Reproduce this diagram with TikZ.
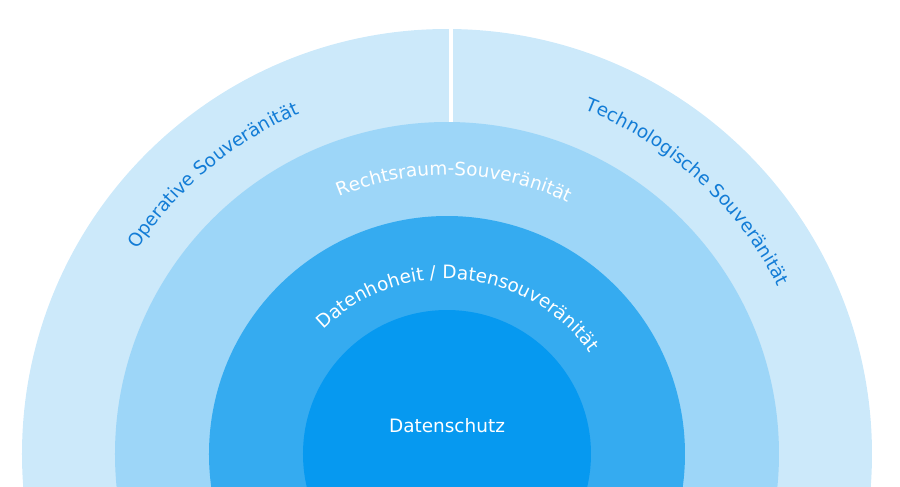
\documentclass[tikz,border=0pt]{standalone}
\usepackage{fontspec}
\setmainfont{DejaVu Sans}
\usepackage{xcolor}
\usetikzlibrary{positioning}
\usetikzlibrary{decorations.text}
\definecolor{ringa}{RGB}{204,233,250}
\definecolor{ringb}{RGB}{157,214,248}
\definecolor{ringc}{RGB}{53,171,240}
\definecolor{ringd}{RGB}{6,153,240}
\definecolor{labelblue}{RGB}{18,124,214}
\newcommand{\ringfont}{\fontsize{10.5}{12}\selectfont}

\begin{document}
\begin{tikzpicture}[every node/.style={font=\ringfont,inner sep=1,outer sep=1},
    ring/.style={fill=#1,draw=none},
    arclabel/.style 2 args={decorate,decoration={text along path,text align=center,text color=#1,text={|\ringfont|#2}}}]
	\useasboundingbox (-8.94,-0.64) rectangle (9.06,9.08);
	\clip (-8.94,-0.64) rectangle (9.06,9.08);
	\coordinate (c) at (0,0);
	\fill[ring=ringa] (c) circle (8.5);
	\coordinate (gapbot) at (0.08,6);
	\coordinate (gaptop) at (0.08,9.08);
	\draw[white,line width=0.08cm] (gapbot) -- (gaptop);
	\fill[ring=ringb] (c) circle (6.64);
	\fill[ring=ringc] (c) circle (4.76);
	\fill[ring=ringd] (c) circle (2.88);
	% labels along the rings
	\path[arclabel={labelblue}{Operative Souveränität}] (170:7.42) arc[start angle=170,end angle=90,radius=7.42];
	\path[arclabel={labelblue}{Technologische Souveränität}] (87.5:7.42) arc[start angle=87.5,end angle=7.5,radius=7.42];
	\path[arclabel={white}{Rechtsraum-Souveränität}] (139.5:5.58) arc[start angle=139.5,end angle=37.5,radius=5.58];
	\path[arclabel={white}{Datenhoheit / Datensouveränität}] (165:3.5) arc[start angle=165,end angle=5,radius=3.5];
	\node (schutz) at (0,0.44) [anchor=base,text=white] {Datenschutz};
\end{tikzpicture}
\end{document}
